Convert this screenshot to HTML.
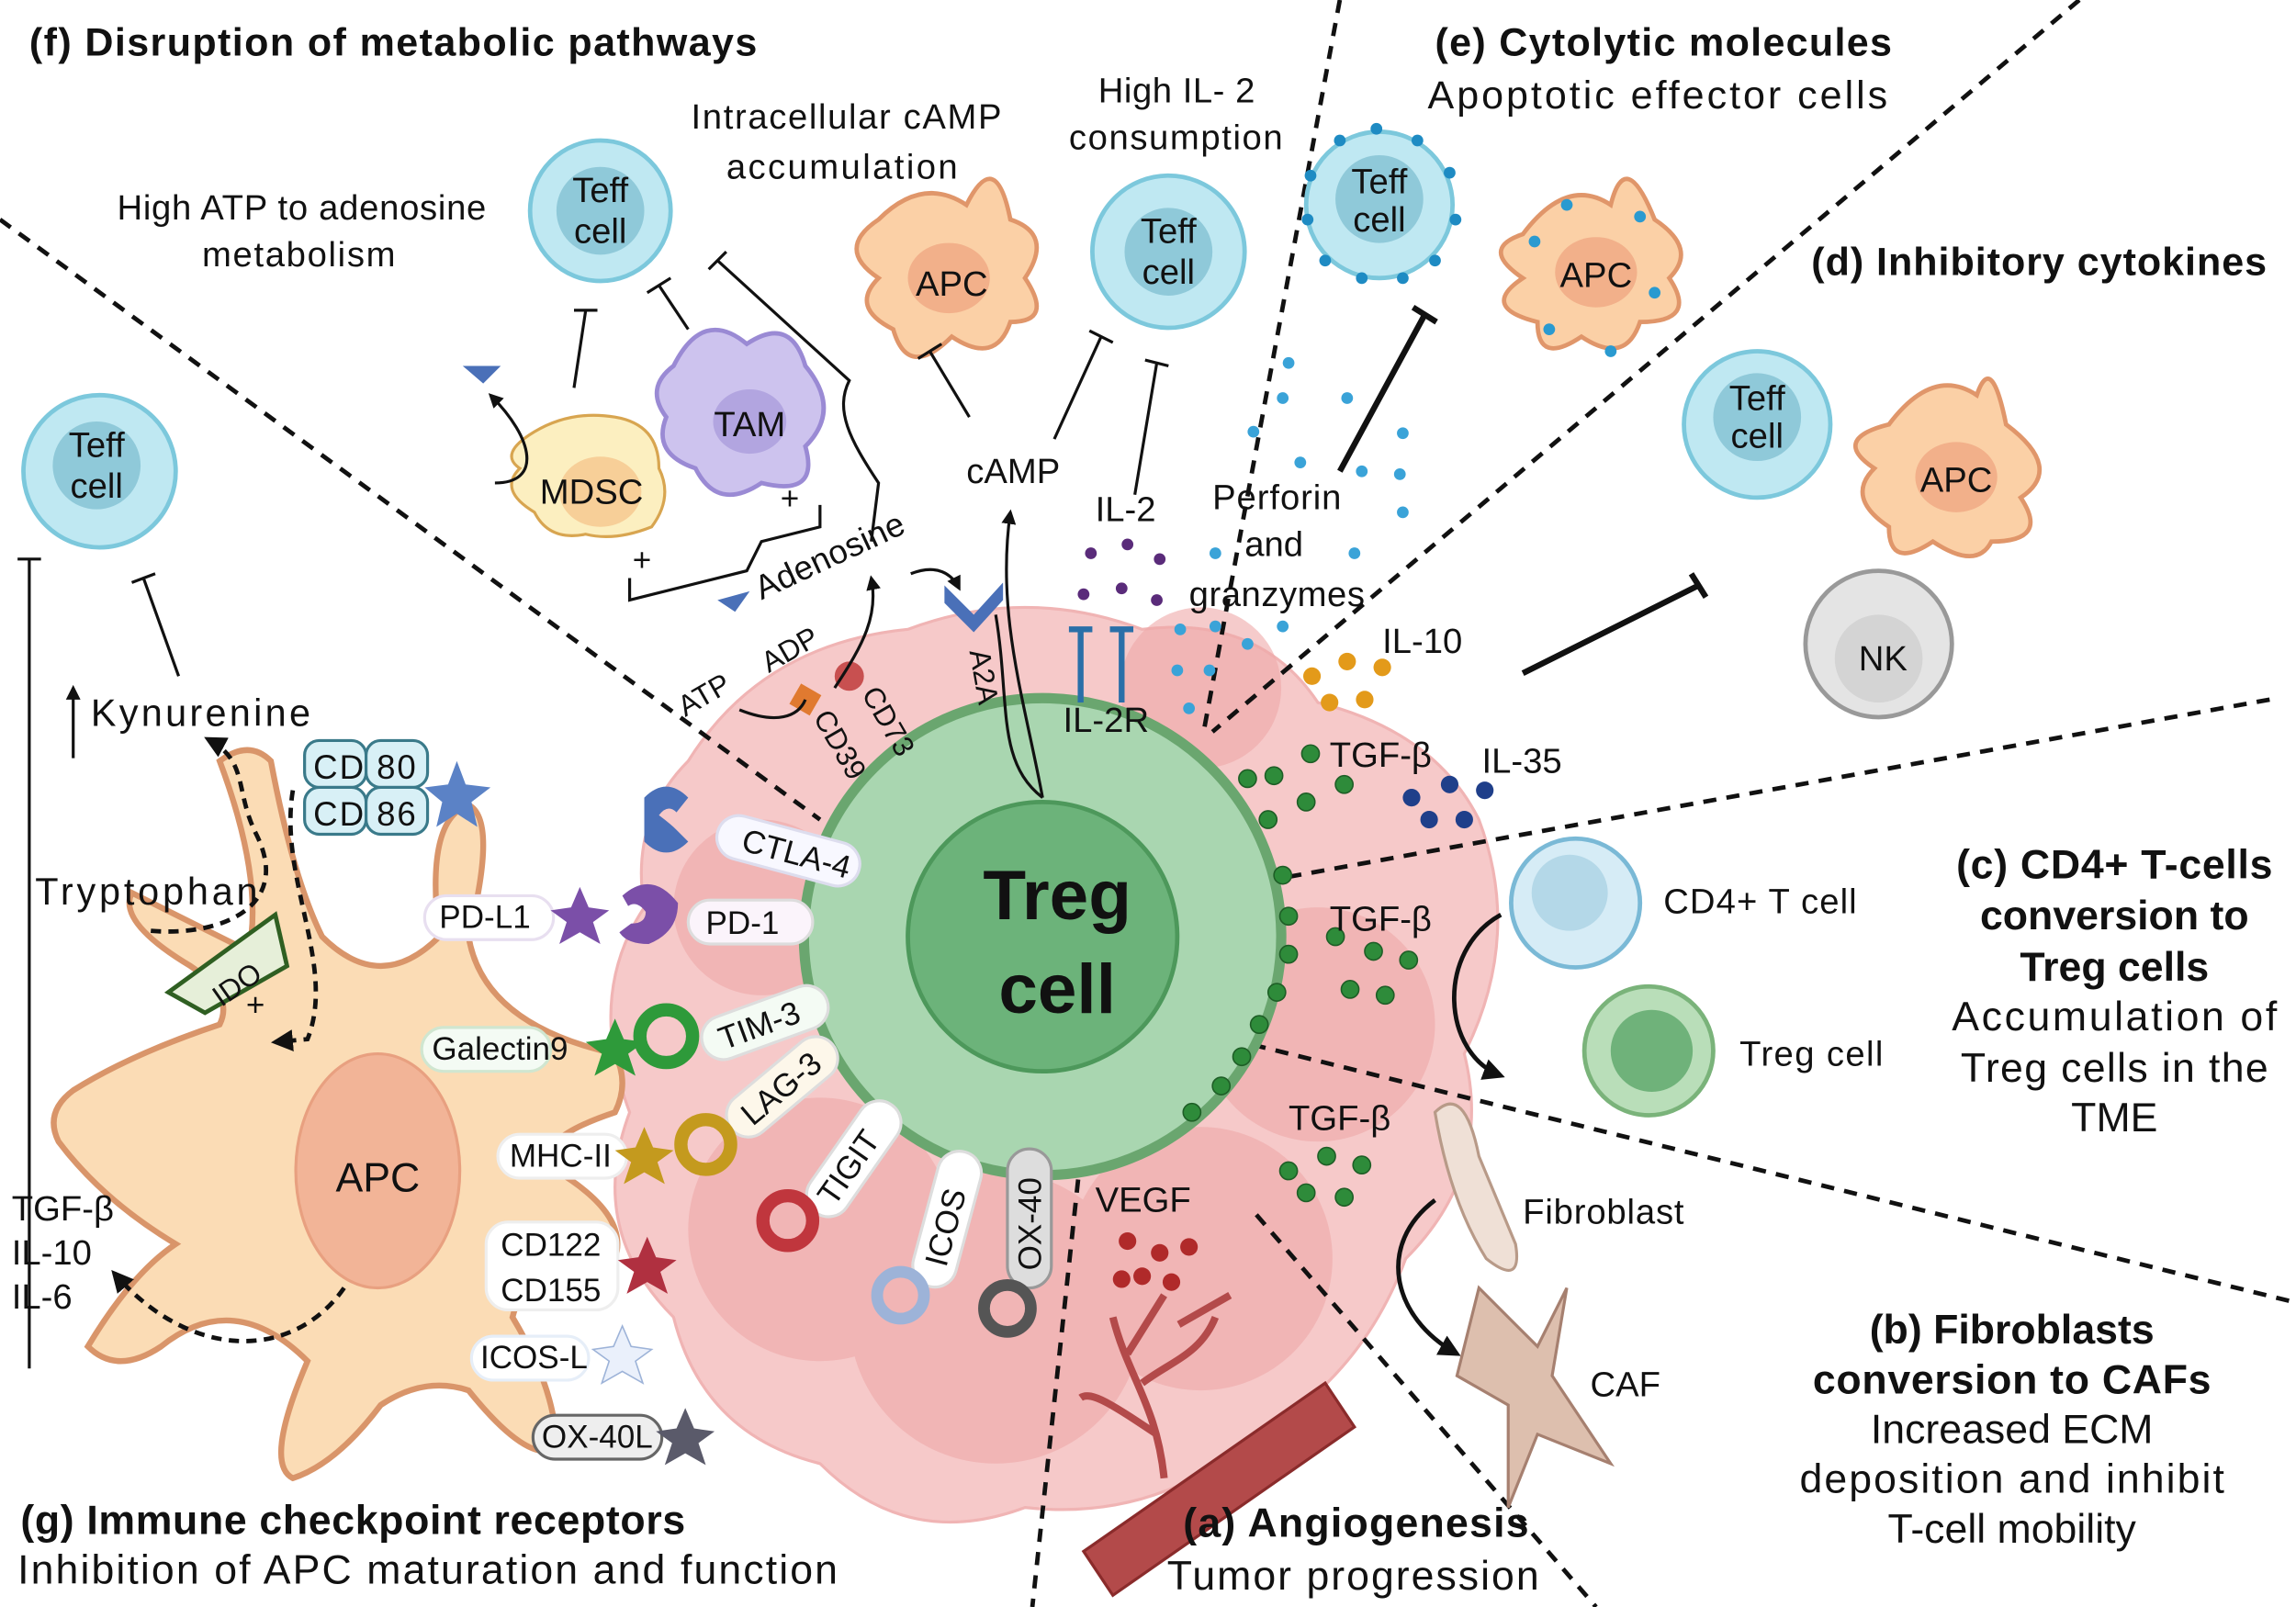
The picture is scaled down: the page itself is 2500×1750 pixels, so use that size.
<!DOCTYPE html>
<html><head><meta charset="utf-8"><style>
html,body{margin:0;padding:0;background:#fff}
svg{display:block}
text{font-family:"Liberation Sans",sans-serif;fill:#111}
.b{font-weight:bold}
</style></head><body>
<svg width="2500" height="1750" viewBox="0 0 1568 1098" preserveAspectRatio="none" xmlns="http://www.w3.org/2000/svg">
<defs>
<marker id="ar" viewBox="0 0 10 10" refX="8" refY="5" markerWidth="5" markerHeight="5" orient="auto"><path d="M0,0L10,5L0,10z" fill="#111"/></marker>
</defs>
<rect width="1568" height="1098" fill="#fff"/>
<g fill="#f6c9c9" stroke="#f0b4b4" stroke-width="2">
<path d="M470,520 Q520,440 620,430 Q700,400 780,430 Q860,420 900,480 Q980,500 1010,560 Q1040,640 1000,720 Q1020,800 960,860 Q930,940 860,980 Q790,1040 700,1030 Q620,1060 560,1000 Q480,980 460,900 Q400,840 430,760 Q400,680 440,620 Q430,560 470,520Z"/>
</g>
<g fill="#eea9a9" opacity="0.6">
<circle cx="560" cy="840" r="90"/><circle cx="680" cy="900" r="100"/><circle cx="820" cy="860" r="90"/><circle cx="900" cy="700" r="80"/><circle cx="520" cy="620" r="60"/><circle cx="820" cy="470" r="55"/>
</g>
<g stroke="#111" stroke-width="3" stroke-dasharray="9,7" fill="none">
<path d="M915,0 L822,500"/><path d="M1420,0 L828,500"/><path d="M0,150 L560,560"/>
<path d="M1550,478 L875,600"/><path d="M840,710 L1568,890"/><path d="M738,790 L705,1098"/><path d="M858,830 L1090,1098"/>
</g>
<circle cx="712" cy="640" r="163" fill="#a9d6b0" stroke="#6aa66f" stroke-width="7"/>
<circle cx="712" cy="640" r="92" fill="#6cb37a" stroke="#4d985b" stroke-width="3"/>
<text x="722" y="628" font-size="48" class="b" text-anchor="middle">Treg</text>
<text x="722" y="692" font-size="48" class="b" text-anchor="middle">cell</text>
<g fill="#2e8b3a" stroke="#1e5e26" stroke-width="1">
<circle cx="852" cy="532" r="6"/><circle cx="866" cy="560" r="6"/><circle cx="876" cy="598" r="6"/><circle cx="880" cy="626" r="6"/><circle cx="880" cy="652" r="6"/><circle cx="872" cy="678" r="6"/><circle cx="860" cy="700" r="6"/><circle cx="848" cy="722" r="6"/><circle cx="834" cy="742" r="6"/><circle cx="814" cy="760" r="6"/>
<circle cx="895" cy="515" r="6"/><circle cx="870" cy="530" r="6"/><circle cx="892" cy="548" r="6"/><circle cx="918" cy="536" r="6"/>
<circle cx="912" cy="640" r="6"/><circle cx="938" cy="650" r="6"/><circle cx="962" cy="656" r="6"/><circle cx="922" cy="676" r="6"/><circle cx="946" cy="680" r="6"/>
<circle cx="880" cy="800" r="6"/><circle cx="906" cy="790" r="6"/><circle cx="930" cy="796" r="6"/><circle cx="892" cy="815" r="6"/><circle cx="918" cy="818" r="6"/>
</g>
<g fill="#e39a1a"><circle cx="896" cy="462" r="6"/><circle cx="920" cy="452" r="6"/><circle cx="944" cy="456" r="6"/><circle cx="908" cy="480" r="6"/><circle cx="932" cy="478" r="6"/></g>
<g fill="#1f3f8a"><circle cx="964" cy="545" r="6"/><circle cx="990" cy="536" r="6"/><circle cx="1014" cy="540" r="6"/><circle cx="976" cy="560" r="6"/><circle cx="1000" cy="560" r="6"/></g>
<g fill="#3aa3d8"><circle cx="880" cy="248" r="4"/><circle cx="876" cy="272" r="4"/><circle cx="920" cy="272" r="4"/><circle cx="856" cy="295" r="4"/><circle cx="888" cy="316" r="4"/><circle cx="930" cy="322" r="4"/><circle cx="958" cy="296" r="4"/><circle cx="956" cy="324" r="4"/><circle cx="958" cy="350" r="4"/><circle cx="830" cy="378" r="4"/><circle cx="925" cy="378" r="4"/><circle cx="806" cy="430" r="4"/><circle cx="830" cy="428" r="4"/><circle cx="852" cy="440" r="4"/><circle cx="876" cy="428" r="4"/><circle cx="804" cy="458" r="4"/><circle cx="826" cy="458" r="4"/><circle cx="812" cy="484" r="4"/></g>
<g fill="#5a2b7a"><circle cx="745" cy="378" r="4"/><circle cx="770" cy="372" r="4"/><circle cx="792" cy="382" r="4"/><circle cx="740" cy="406" r="4"/><circle cx="766" cy="402" r="4"/><circle cx="790" cy="410" r="4"/></g>
<g stroke="#2a6fa8" stroke-width="4" fill="none"><path d="M738,480 V430 M730,430 h16"/><path d="M766,480 V430 M758,430 h16"/></g>
<g fill="#b02a2a"><circle cx="770" cy="848" r="6"/><circle cx="792" cy="856" r="6"/><circle cx="812" cy="852" r="6"/><circle cx="780" cy="872" r="6"/><circle cx="800" cy="876" r="6"/><circle cx="766" cy="874" r="6"/></g>
<path d="M740,1060 L905,945 L925,975 L760,1090Z" fill="#b34a4a" stroke="#8a2b2b" stroke-width="2"/>
<g stroke="#b34a4a" stroke-width="5" fill="none"><path d="M795,1010 C790,960 770,940 760,900 M790,980 C760,960 745,950 738,955 M780,945 C800,930 820,925 830,900 M770,925 L795,885 M805,905 L840,885"/></g>
<path d="M50,745 Q90,720 150,700 Q160,680 130,660 Q80,630 90,610 Q110,620 170,650 Q180,600 150,520 Q170,505 185,520 Q200,600 220,640 Q260,680 300,640 Q290,560 320,550 Q340,560 320,640 Q330,700 420,720 Q430,740 420,760 Q360,780 380,800 Q430,830 420,860 Q360,860 350,900 Q380,950 380,990 Q360,1000 320,950 Q290,940 260,960 Q230,1000 200,1010 Q180,1000 210,930 Q160,880 110,920 Q80,940 60,920 Q90,870 120,850 Q70,820 40,780 Q30,760 50,745Z" fill="#fbdcb5" stroke="#d9956a" stroke-width="4"/>
<ellipse cx="258" cy="800" rx="56" ry="80" fill="#f2b497" stroke="#e8a080" stroke-width="2"/>
<text x="258" y="814" font-size="28" text-anchor="middle">APC</text>
<path d="M115,678 L188,625 L196,660 L140,692Z" fill="#e6efd9" stroke="#2f5f22" stroke-width="3"/>
<text x="160" y="680" font-size="20" transform="rotate(-35 160 670)" text-anchor="middle">IDO</text>
<text x="168" y="694" font-size="22">+</text>
<g stroke="#111" stroke-width="3" stroke-dasharray="7,5" fill="none">
<path d="M200,540 C190,600 230,660 210,710 L188,712" marker-end="url(#ar)"/>
<path d="M103,636 C150,640 200,620 175,570 C160,540 170,520 142,505" marker-end="url(#ar)"/>
<path d="M235,880 C200,930 130,930 78,870" marker-end="url(#ar)"/>
</g>
<g stroke="#3a7a8a" stroke-width="2" fill="#d8f0f6">
<rect x="208" y="506" width="42" height="32" rx="10"/><rect x="250" y="506" width="42" height="32" rx="10"/>
<rect x="208" y="538" width="42" height="32" rx="10"/><rect x="250" y="538" width="42" height="32" rx="10"/>
</g>
<text x="214" y="532" font-size="23" textLength="70">CD 80</text><text x="214" y="564" font-size="23" textLength="70">CD 86</text>
<path d="M312,520 L318,536 L335,538 L322,548 L326,565 L312,556 L298,565 L302,548 L290,538 L306,536Z" fill="#5b82c6"/>
<rect x="290" y="612" width="88" height="30" rx="15" fill="#fff" stroke="#e8dff0" stroke-width="2"/><text x="300" y="634" font-size="22">PD-L1</text>
<path d="M396,606 L402,620 L416,622 L405,630 L410,645 L396,637 L382,645 L387,630 L376,622 L390,620Z" fill="#7b4fa8"/>
<rect x="288" y="702" width="88" height="30" rx="15" fill="#f4fbf4" stroke="#d0e6d0" stroke-width="2"/><text x="295" y="724" font-size="22">Galectin9</text>
<path d="M420,696 L426,710 L440,712 L429,720 L434,735 L420,727 L406,735 L411,720 L400,712 L414,710Z" fill="#2e9a3a"/>
<rect x="340" y="775" width="88" height="30" rx="15" fill="#fff" stroke="#eee" stroke-width="2"/><text x="348" y="797" font-size="22">MHC-II</text>
<path d="M440,770 L446,784 L460,786 L449,794 L454,809 L440,801 L426,809 L431,794 L420,786 L434,784Z" fill="#c49a1e"/>
<rect x="332" y="835" width="90" height="60" rx="15" fill="#fff" stroke="#eee" stroke-width="2"/><text x="342" y="858" font-size="22">CD122</text><text x="342" y="889" font-size="22">CD155</text>
<path d="M442,845 L448,859 L462,861 L451,869 L456,884 L442,876 L428,884 L433,869 L422,861 L436,859Z" fill="#b03040"/>
<rect x="322" y="913" width="80" height="30" rx="15" fill="#fff" stroke="#e6eef8" stroke-width="2"/><text x="328" y="935" font-size="22">ICOS-L</text>
<path d="M425,906 L431,920 L445,922 L434,930 L439,945 L425,937 L411,945 L416,930 L405,922 L419,920Z" fill="#eaf0fb" stroke="#9db3d8"/>
<rect x="364" y="967" width="88" height="30" rx="15" fill="#eee" stroke="#666" stroke-width="2"/><text x="370" y="989" font-size="22">OX-40L</text>
<path d="M468,962 L474,976 L488,978 L477,986 L482,1001 L468,993 L454,1001 L459,986 L448,978 L462,976Z" fill="#5a5a6a"/>
<g font-size="22">
<g transform="translate(500,570) rotate(15)"><rect x="-10" y="-14" width="100" height="30" rx="15" fill="#f8f8ff" stroke="#dde" stroke-width="2"/><text x="8" y="9">CTLA-4</text></g>
<path d="M440,545 q15,-15 30,0 l-8,10 q-6,-6 -12,2 q8,6 12,10 l8,8 q-15,15 -30,0z" fill="#4a70b8"/>
<g transform="translate(470,615)"><rect x="0" y="0" width="85" height="30" rx="15" fill="#fbf4fb" stroke="#ddd" stroke-width="2"/><text x="12" y="23">PD-1</text></g>
<path d="M425,612 q20,-18 38,5 q0,20 -20,28 q-15,0 -20,-8 l8,-6 q10,0 10,-8 q-6,-8 -12,-4z" fill="#7b4fa8"/>
<g transform="translate(475,700) rotate(-20)"><rect x="0" y="0" width="90" height="30" rx="15" fill="#f4fbf4" stroke="#ddd" stroke-width="2"/><text x="12" y="23">TIM-3</text></g>
<circle cx="455" cy="708" r="18" fill="none" stroke="#2e9a3a" stroke-width="9"/>
<g transform="translate(490,760) rotate(-40)"><rect x="0" y="0" width="90" height="30" rx="15" fill="#fdf7ea" stroke="#ddd" stroke-width="2"/><text x="12" y="23">LAG-3</text></g>
<circle cx="482" cy="782" r="17" fill="none" stroke="#c49a1e" stroke-width="9"/>
<g transform="translate(545,820) rotate(-55)"><rect x="0" y="0" width="90" height="30" rx="15" fill="#fff" stroke="#ddd" stroke-width="2"/><text x="10" y="23">TIGIT</text></g>
<circle cx="538" cy="834" r="17" fill="none" stroke="#c0363d" stroke-width="9"/>
<g transform="translate(620,875) rotate(-75)"><rect x="0" y="0" width="95" height="30" rx="15" fill="#fff" stroke="#ddd" stroke-width="2"/><text x="15" y="23">ICOS</text></g>
<circle cx="615" cy="885" r="16" fill="none" stroke="#9db3d8" stroke-width="8"/>
<g transform="translate(688,880) rotate(-90)"><rect x="0" y="0" width="95" height="30" rx="15" fill="#ddd" stroke="#999" stroke-width="2"/><text x="12" y="23">OX-40</text></g>
<circle cx="688" cy="894" r="16" fill="none" stroke="#555" stroke-width="8"/>
</g>
<rect x="542" y="470" width="16" height="16" fill="#e07a30" transform="rotate(30 550 478)"/>
<circle cx="580" cy="462" r="10" fill="#c85050"/>
<text x="555" y="490" font-size="20" transform="rotate(60 555 490)">CD39</text>
<text x="588" y="474" font-size="20" transform="rotate(60 588 474)">CD73</text>
<text x="468" y="490" font-size="20" transform="rotate(-30 468 490)">ATP</text>
<text x="525" y="460" font-size="20" transform="rotate(-30 525 460)">ADP</text>
<path d="M645,400 L665,420 L685,398 L685,410 L665,432 L645,412Z" fill="#4a70b8"/>
<text x="662" y="445" font-size="20" transform="rotate(80 662 445)">A2A</text>
<path d="M505,485 C530,495 545,490 550,478" stroke="#111" stroke-width="2" fill="none"/>
<path d="M570,470 C590,440 600,420 595,395" stroke="#111" stroke-width="2" fill="none" marker-end="url(#ar)"/>
<path d="M622,392 C640,385 650,392 655,402" stroke="#111" stroke-width="2" fill="none" marker-end="url(#ar)"/>
<path d="M712,545 C700,480 680,420 690,350" stroke="#111" stroke-width="2" fill="none" marker-end="url(#ar)"/>
<path d="M712,545 C680,520 690,480 680,420" stroke="#111" stroke-width="2" fill="none"/>
<text x="520" y="410" font-size="23" transform="rotate(-25 520 410)" textLength="110">Adenosine</text>
<path d="M490,410 L512,404 L502,418Z" fill="#4a70b8"/>
<g>
<circle cx="410" cy="144" r="48" fill="#bfe8f2" stroke="#7cc8dc" stroke-width="3"/><circle cx="410" cy="144" r="30" fill="#8fc9d9"/>
<text x="410" y="138" font-size="24" text-anchor="middle">Teff</text><text x="410" y="166" font-size="24" text-anchor="middle">cell</text>
<circle cx="798" cy="172" r="52" fill="#bfe8f2" stroke="#7cc8dc" stroke-width="3"/><circle cx="798" cy="172" r="30" fill="#8fc9d9"/>
<text x="798" y="166" font-size="24" text-anchor="middle">Teff</text><text x="798" y="194" font-size="24" text-anchor="middle">cell</text>
<circle cx="942" cy="140" r="50" fill="#bfe8f2" stroke="#7cc8dc" stroke-width="3"/><circle cx="942" cy="136" r="30" fill="#8fc9d9"/>
<text x="942" y="132" font-size="24" text-anchor="middle">Teff</text><text x="942" y="158" font-size="24" text-anchor="middle">cell</text>
<g fill="#1e8bc3"><circle cx="895" cy="120" r="4"/><circle cx="915" cy="96" r="4"/><circle cx="940" cy="88" r="4"/><circle cx="968" cy="96" r="4"/><circle cx="990" cy="118" r="4"/><circle cx="994" cy="150" r="4"/><circle cx="980" cy="178" r="4"/><circle cx="958" cy="190" r="4"/><circle cx="930" cy="190" r="4"/><circle cx="905" cy="178" r="4"/><circle cx="893" cy="150" r="4"/></g>
<circle cx="1200" cy="290" r="50" fill="#bfe8f2" stroke="#7cc8dc" stroke-width="3"/><circle cx="1200" cy="285" r="30" fill="#8fc9d9"/>
<text x="1200" y="280" font-size="24" text-anchor="middle">Teff</text><text x="1200" y="306" font-size="24" text-anchor="middle">cell</text>
<circle cx="68" cy="322" r="52" fill="#bfe8f2" stroke="#7cc8dc" stroke-width="3"/><circle cx="66" cy="318" r="30" fill="#8fc9d9"/>
<text x="66" y="312" font-size="24" text-anchor="middle">Teff</text><text x="66" y="340" font-size="24" text-anchor="middle">cell</text>
<g fill="#fbd0a6" stroke="#e0966a" stroke-width="3">
<path d="M600,150 Q630,120 660,140 Q680,100 690,150 Q720,160 700,190 Q720,220 690,220 Q680,250 650,230 Q620,260 610,225 Q580,210 600,190 Q570,170 600,150Z"/>
<path d="M1040,160 Q1070,120 1100,140 Q1110,100 1130,150 Q1160,170 1140,190 Q1160,220 1120,220 Q1110,250 1080,230 Q1050,250 1050,220 Q1010,210 1040,190 Q1010,170 1040,160Z"/>
<path d="M1290,290 Q1320,250 1350,270 Q1360,240 1370,290 Q1410,320 1380,340 Q1400,370 1360,370 Q1350,390 1320,370 Q1290,390 1290,360 Q1260,340 1280,320 Q1250,300 1290,290Z"/>
</g>
<ellipse cx="648" cy="190" rx="28" ry="24" fill="#f2b08a"/><text x="650" y="202" font-size="24" text-anchor="middle">APC</text>
<ellipse cx="1090" cy="186" rx="28" ry="24" fill="#f2b08a"/><text x="1090" y="196" font-size="24" text-anchor="middle">APC</text>
<ellipse cx="1336" cy="326" rx="28" ry="24" fill="#f2b08a"/><text x="1336" y="336" font-size="24" text-anchor="middle">APC</text>
<g fill="#2a9ad0"><circle cx="1048" cy="165" r="4"/><circle cx="1070" cy="140" r="4"/><circle cx="1120" cy="148" r="4"/><circle cx="1130" cy="200" r="4"/><circle cx="1100" cy="240" r="4"/><circle cx="1058" cy="225" r="4"/></g>
<circle cx="1283" cy="440" r="50" fill="#e4e4e4" stroke="#999" stroke-width="3"/><circle cx="1283" cy="450" r="30" fill="#d4d4d4"/>
<text x="1286" y="458" font-size="24" text-anchor="middle">NK</text>
<path d="M460,250 Q480,210 510,235 Q540,215 550,250 Q575,280 550,305 Q560,340 520,330 Q490,350 475,320 Q445,310 455,285 Q440,265 460,250Z" fill="#cdc3ee" stroke="#9a8ad4" stroke-width="3"/>
<ellipse cx="512" cy="288" rx="25" ry="22" fill="#b2a5e0"/><text x="512" y="298" font-size="24" text-anchor="middle">TAM</text>
<path d="M365,295 Q390,280 420,285 Q450,290 450,320 Q460,340 445,360 Q420,370 400,365 Q375,370 365,350 Q340,335 355,320 Q340,310 365,295Z" fill="#fcefc0" stroke="#d8a550" stroke-width="2"/>
<ellipse cx="410" cy="336" rx="28" ry="24" fill="#f7cf98"/><text x="404" y="344" font-size="24" text-anchor="middle">MDSC</text>
<path d="M316,250 L342,250 L330,262Z" fill="#4a70b8"/>
<path d="M338,330 C370,330 365,300 335,270" stroke="#111" stroke-width="2" fill="none" marker-end="url(#ar)"/>
</g>
<g stroke="#111" stroke-width="2" fill="none">
<path d="M392,265 L400,212 M392,212 L408,212"/>
<path d="M470,225 L450,195 M442,200 L458,190"/>
<path d="M595,370 L600,330 C580,300 570,280 580,260 L490,178 M484,184 L496,172"/>
<path d="M662,285 L635,240 M627,245 L643,235"/>
<path d="M720,300 L752,230 M744,226 L760,234"/>
<path d="M775,338 L790,248 M782,246 L798,250"/>
<path d="M20,935 V382 M12,382 H28"/>
<path d="M122,462 L98,395 M90,398 L106,392"/>
<path d="M50,518 V470" marker-end="url(#ar)"/>
<path d="M430,395 V410 L510,390 L520,370 L560,360 V345"/>
</g>
<path d="M915,322 L973,215 M965,210 L981,220" stroke="#111" stroke-width="4"/>
<path d="M1040,460 L1160,400 M1155,392 L1165,408" stroke="#111" stroke-width="4"/>
<text x="533" y="348" font-size="22">+</text><text x="432" y="390" font-size="22">+</text>
<circle cx="1076" cy="617" r="44" fill="#d6ecf6" stroke="#7ab9d6" stroke-width="3"/><circle cx="1072" cy="610" r="26" fill="#b4d8e8"/>
<circle cx="1126" cy="718" r="44" fill="#b9deb9" stroke="#7ab37a" stroke-width="3"/><circle cx="1128" cy="718" r="28" fill="#6fb27a"/>
<path d="M1025,625 C980,650 985,720 1025,735" stroke="#111" stroke-width="3" fill="none" marker-end="url(#ar)"/>
<path d="M980,820 C940,850 950,900 995,925" stroke="#111" stroke-width="3" fill="none" marker-end="url(#ar)"/>
<path d="M980,760 Q1000,740 1010,790 L1035,850 Q1040,880 1015,860 Q990,820 980,760Z" fill="#efe0d6" stroke="#b89a88" stroke-width="2"/>
<path d="M1010,880 L1050,920 L1070,880 L1060,940 L1100,1000 L1050,980 L1030,1030 L1030,960 L995,940Z" fill="#ddbfae" stroke="#a68070" stroke-width="2"/>
<g font-size="24">
<text x="20" y="38" class="b" font-size="27" textLength="497">(f) Disruption of metabolic pathways</text>
<text x="472" y="88" textLength="212">Intracellular cAMP</text><text x="496" y="122" textLength="158">accumulation</text>
<text x="750" y="70" textLength="107">High IL- 2</text><text x="730" y="102" textLength="146">consumption</text>
<text x="80" y="150" textLength="252">High ATP to adenosine</text><text x="138" y="182" textLength="132">metabolism</text>
<text x="980" y="38" class="b" font-size="27" textLength="312">(e) Cytolytic molecules</text>
<text x="975" y="74" font-size="27" textLength="314">Apoptotic effector cells</text>
<text x="1237" y="188" class="b" font-size="27" textLength="311">(d) Inhibitory cytokines</text>
<text x="660" y="330">cAMP</text><text x="748" y="356">IL-2</text>
<text x="828" y="348" textLength="88">Perforin</text><text x="850" y="380">and</text><text x="812" y="414" textLength="120">granzymes</text>
<text x="944" y="446">IL-10</text><text x="908" y="524">TGF-β</text><text x="1012" y="528">IL-35</text>
<text x="726" y="500">IL-2R</text>
<text x="908" y="636">TGF-β</text><text x="880" y="772">TGF-β</text><text x="748" y="828">VEGF</text>
<text x="1136" y="624" textLength="132">CD4+ T cell</text><text x="1188" y="728" textLength="98">Treg cell</text>
<text x="1040" y="836" textLength="110">Fibroblast</text><text x="1086" y="954">CAF</text>
<g font-size="28" text-anchor="middle">
<text x="1444" y="600" class="b" textLength="216">(c) CD4+ T-cells</text>
<text x="1444" y="635" class="b">conversion to</text>
<text x="1444" y="670" class="b">Treg cells</text>
<text x="1444" y="704" textLength="222">Accumulation of</text>
<text x="1444" y="739" textLength="210">Treg cells in the</text>
<text x="1444" y="773">TME</text>
<text x="1374" y="918" class="b">(b) Fibroblasts</text>
<text x="1374" y="952" class="b" textLength="272">conversion  to CAFs</text>
<text x="1374" y="986">Increased ECM</text>
<text x="1374" y="1020" textLength="290">deposition and inhibit</text>
<text x="1374" y="1054">T-cell mobility</text>
<text x="926" y="1050" class="b" textLength="236">(a) Angiogenesis</text>
<text x="924" y="1086" textLength="254">Tumor progression</text>
</g>
<text x="14" y="1048" class="b" font-size="28" textLength="454">(g) Immune checkpoint receptors</text>
<text x="12" y="1082" font-size="28" textLength="560">Inhibition of APC maturation and function</text>
<text x="62" y="496" font-size="26" textLength="150">Kynurenine</text>
<text x="24" y="618" font-size="26" textLength="152">Tryptophan</text>
<text x="8" y="834">TGF-β</text><text x="8" y="864">IL-10</text><text x="8" y="894">IL-6</text>
</g>
</svg>
</body></html>
